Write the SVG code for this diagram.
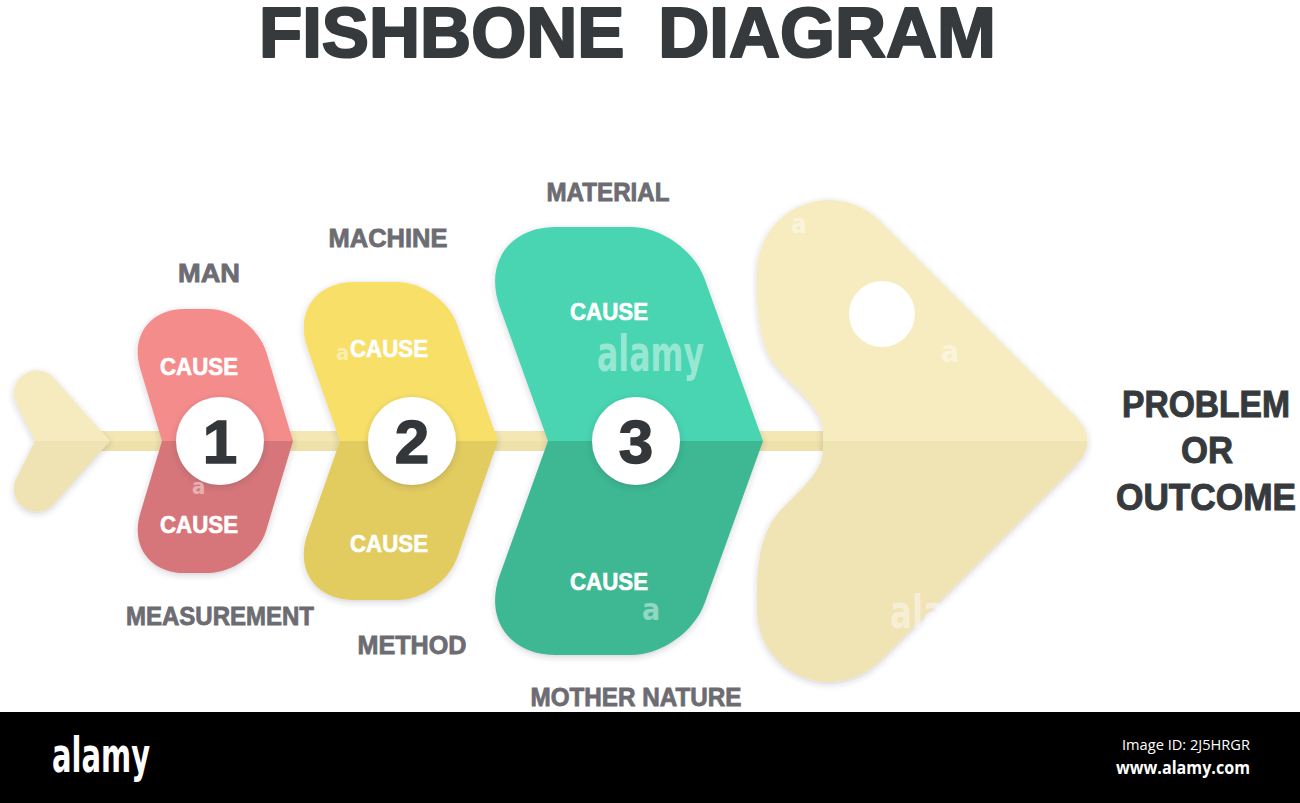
<svg xmlns="http://www.w3.org/2000/svg" xmlns:xlink="http://www.w3.org/1999/xlink" width="1300" height="803" viewBox="0 0 1300 803">
<style>
.title{font-family:"Liberation Sans",Arial,sans-serif;font-weight:bold;font-size:70px;fill:#363a3d;stroke:#363a3d;stroke-width:2.2;stroke-linejoin:round}
.lbl{font-family:"Liberation Sans",Arial,sans-serif;font-weight:bold;font-size:26px;fill:#6c6c72;stroke:#6c6c72;stroke-width:0.8;text-anchor:middle}
.cause{font-family:"Liberation Sans",Arial,sans-serif;font-weight:bold;font-size:23px;fill:#ffffff;stroke:#ffffff;stroke-width:0.6;text-anchor:middle}
.num{font-family:"Liberation Sans",Arial,sans-serif;font-weight:bold;font-size:62px;fill:#33373a;stroke:#33373a;stroke-width:1.5;text-anchor:middle}
.prob{font-family:"Liberation Sans",Arial,sans-serif;font-weight:bold;font-size:36px;fill:#363a3d;stroke:#363a3d;stroke-width:1;text-anchor:middle}
.wm{font-family:"DejaVu Sans Condensed","DejaVu Sans",sans-serif;font-weight:bold;fill:#ffffff;fill-opacity:0.45}
.logo{font-family:"DejaVu Sans Condensed","DejaVu Sans",sans-serif;font-weight:bold;fill:#ffffff}
.foot{font-family:"Open Sans","DejaVu Sans",sans-serif;fill:#ffffff}
</style>
<defs>
<filter id="sh" x="-20%" y="-20%" width="140%" height="140%">
<feDropShadow dx="0" dy="2" stdDeviation="3" flood-color="#3a3550" flood-opacity="0.22"/>
</filter>
<path id="tailT" d="M35,441 L15.5,402 A23,23 0 0 1 53,377 L110,441 Z"/>
<path id="s1T" d="M162,441 L140.2,368.4 C130.4,335.7 150.3,309 184.4,309 L208.4,309 C233.2,309 259.2,328.4 266.3,352.1 L293,441 Z"/>
<path id="s2T" d="M340,441 L307.4,348.1 C294.7,311.7 315.8,282 354.3,282 L397.3,282 C422.1,282 449,301.1 457.2,324.5 L498,441 Z"/>
<path id="s3T" d="M548,441 L499.8,307 C484,263 509.25,227 556,227 L631,227 C661.25,227 694.4,250.3 704.6,278.8 L763,441 Z"/>
<path id="headT" d="M823,441 L823,430 C821,405 790,385 775,365 C762,348 757,320 757,290 L757,272 C757,232.4 789.4,200 829,200 C848.1,200 866.5,207.5 880,221 L1075,416 Q1087.5,428.5 1087.5,441 Z"/>
</defs>
<rect width="1300" height="803" fill="#ffffff"/>

<g id="title">
<text class="title" x="259" y="57" textLength="737" lengthAdjust="spacingAndGlyphs" word-spacing="14">FISHBONE DIAGRAM</text>
</g>

<g id="connectors">
<rect x="100" y="431" width="730" height="10" fill="#f4e7b3"/>
<rect x="100" y="441" width="730" height="10" fill="#eee1aa"/>
</g>

<g id="tail" filter="url(#sh)">
<use xlink:href="#tailT" fill="#f6ebbe"/>
<use xlink:href="#tailT" fill="#efe3b3" transform="matrix(1 0 0 -1 0 882)"/>
</g>

<g id="cause1">
<g filter="url(#sh)">
<use xlink:href="#s1T" fill="#f48c8c"/>
<use xlink:href="#s1T" fill="#d6767a" transform="matrix(1 0 0 -1 0 882)"/>
</g>
<circle cx="220" cy="441" r="44" fill="#ffffff" filter="url(#sh)"/>
<text class="num" x="220" y="463">1</text>
<text class="cause" x="199" y="375" textLength="78" lengthAdjust="spacingAndGlyphs">CAUSE</text>
<text class="cause" x="199" y="533" textLength="78" lengthAdjust="spacingAndGlyphs">CAUSE</text>
<text class="lbl" x="209" y="282" textLength="62" lengthAdjust="spacingAndGlyphs">MAN</text>
<text class="lbl" x="220" y="625" textLength="188" lengthAdjust="spacingAndGlyphs">MEASUREMENT</text>
</g>

<g id="cause2">
<g filter="url(#sh)">
<use xlink:href="#s2T" fill="#f8e068"/>
<use xlink:href="#s2T" fill="#e2cc5e" transform="matrix(1 0 0 -1 0 882)"/>
</g>
<circle cx="412" cy="441" r="44" fill="#ffffff" filter="url(#sh)"/>
<text class="num" x="412" y="463">2</text>
<text class="cause" x="389" y="357" textLength="78" lengthAdjust="spacingAndGlyphs">CAUSE</text>
<text class="cause" x="389" y="552" textLength="78" lengthAdjust="spacingAndGlyphs">CAUSE</text>
<text class="lbl" x="388" y="247" textLength="119" lengthAdjust="spacingAndGlyphs">MACHINE</text>
<text class="lbl" x="412" y="654" textLength="109" lengthAdjust="spacingAndGlyphs">METHOD</text>
</g>

<g id="cause3">
<g filter="url(#sh)">
<use xlink:href="#s3T" fill="#48d5b1"/>
<use xlink:href="#s3T" fill="#3eb893" transform="matrix(1 0 0 -1 0 882)"/>
</g>
<circle cx="636" cy="441" r="44" fill="#ffffff" filter="url(#sh)"/>
<text class="num" x="636" y="463">3</text>
<text class="cause" x="609" y="320" textLength="78" lengthAdjust="spacingAndGlyphs">CAUSE</text>
<text class="cause" x="609" y="590" textLength="78" lengthAdjust="spacingAndGlyphs">CAUSE</text>
<text class="lbl" x="608" y="201" textLength="123" lengthAdjust="spacingAndGlyphs">MATERIAL</text>
<text class="lbl" x="636" y="706" textLength="211" lengthAdjust="spacingAndGlyphs">MOTHER NATURE</text>
</g>

<g id="head">
<g filter="url(#sh)">
<use xlink:href="#headT" fill="#f7ecbf"/>
<use xlink:href="#headT" fill="#f0e4b5" transform="matrix(1 0 0 -1 0 882)"/>
</g>
<circle cx="882" cy="314" r="33" fill="#ffffff"/>
</g>

<g id="outcome">
<text class="prob" x="1206" y="417" textLength="168" lengthAdjust="spacingAndGlyphs">PROBLEM</text>
<text class="prob" x="1207" y="463" textLength="52" lengthAdjust="spacingAndGlyphs">OR</text>
<text class="prob" x="1206" y="510" textLength="180" lengthAdjust="spacingAndGlyphs">OUTCOME</text>
</g>

<g id="watermark">
<text class="wm" x="597" y="371" font-size="50" textLength="107" lengthAdjust="spacingAndGlyphs">alamy</text>
<text class="wm" x="890" y="628" font-size="46" textLength="110" lengthAdjust="spacingAndGlyphs">alamy</text>
<text class="wm" x="642" y="620" font-size="30">a</text>
<text class="wm" x="941" y="362" font-size="30">a</text>
<text class="wm" x="791" y="233" font-size="26">a</text>
<text class="wm" x="192" y="494" font-size="22">a</text>
<text class="wm" x="336" y="360" font-size="22">a</text>
</g>

<g id="footer">
<rect x="0" y="712" width="1300" height="91" fill="#000000"/>
<text class="logo" x="52" y="772" font-size="48" textLength="98" lengthAdjust="spacingAndGlyphs">alamy</text>
<text class="foot" x="1122" y="750" font-size="14.5" fill="#e4e4e4" textLength="128" lengthAdjust="spacingAndGlyphs">Image ID: 2J5HRGR</text>
<text class="foot" x="1116" y="774" font-size="17" font-weight="bold" textLength="134" lengthAdjust="spacingAndGlyphs">www.alamy.com</text>
</g>
</svg>
